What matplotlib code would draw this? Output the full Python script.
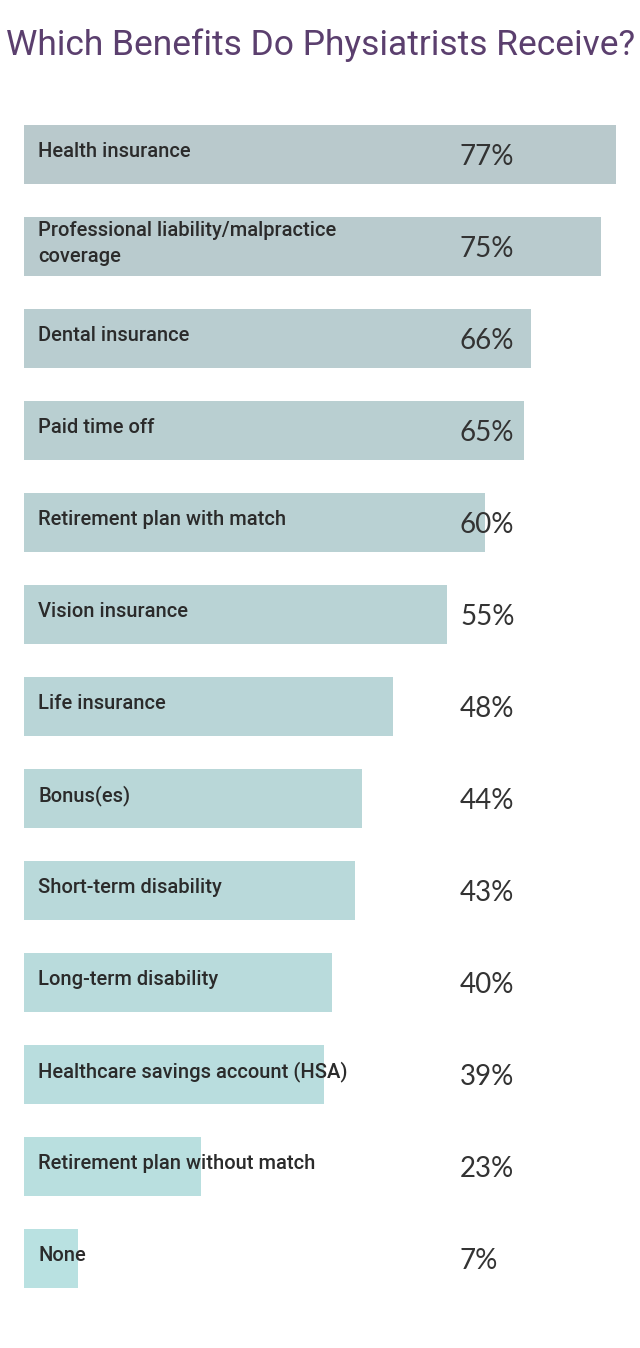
import numpy as np
import matplotlib.pyplot as plt
from matplotlib.colors import to_rgb

benefits = ["Health insurance", "Professional liability/malpractice\ncoverage",
            "Dental insurance", "Paid time off", "Retirement plan with match",
            "Vision insurance", "Life insurance", "Bonus(es)", "Short-term disability",
            "Long-term disability", "Healthcare savings account (HSA)",
            "Retirement plan without match", "None"]
values = [77, 75, 66, 65, 60, 55, 48, 44, 43, 40, 39, 23, 7]

W, H = 640, 1348
fig = plt.figure(figsize=(W / 100, H / 100), dpi=100)
fig.patch.set_facecolor("white")

px_per = (616 - 24) / 77.0
ax = fig.add_axes([24 / W, 0, 1 - 24 / W, 1])
ax.set_xlim(0, (W - 24) / px_per)
ax.set_ylim((H - 154) / 92.0, -154 / 92.0)
ax.axis("off")

c_top = np.array(to_rgb("#b9c9cc"))
c_bot = np.array(to_rgb("#b9e1e1"))
n = len(values)
cols = [tuple(c_top + (c_bot - c_top) * i / (n - 1)) for i in range(n)]
ax.barh(range(n), values, height=59 / 92.0, color=cols)

fam = ["Roboto", "DejaVu Sans"]
for i, (b, v) in enumerate(zip(benefits, values)):
    ax.text((38 - 24) / px_per, i - 0.03, b, va="center", ha="left", fontsize=14.5,
            color="#2b2b2b", family=fam, fontweight="medium", linespacing=1.45)
    ax.text((460 - 24) / px_per, i + 0.03, f"{v}%", va="center", ha="left",
            fontsize=20, color="#333333", family=["Lato", "DejaVu Sans"], fontweight="normal")

fig.text(6 / W, 1 - 45 / H, "Which Benefits Do Physiatrists Receive?", fontsize=25.5,
         color="#5b3f6e", family=fam, va="center", ha="left")

fig.savefig("out.png", dpi=100)
